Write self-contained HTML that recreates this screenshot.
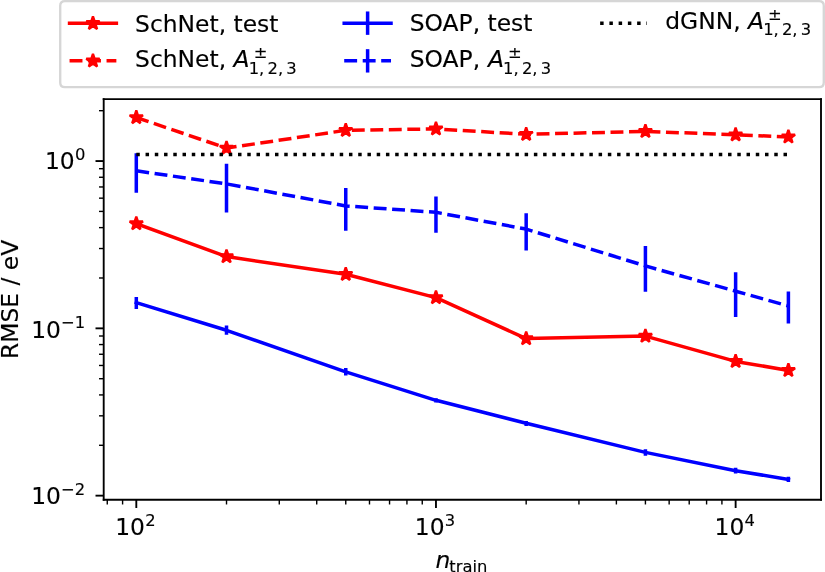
<!DOCTYPE html>
<html><head><meta charset="utf-8"><title>RMSE vs n_train</title><style>html,body{margin:0;padding:0;background:#fff;overflow:hidden;width:825px;height:572px}svg{display:block}svg text{stroke:#000;stroke-width:0.06px;paint-order:stroke}</style></head>
<body><svg width="825" height="572" viewBox="0 0 352.564103 244.444444" version="1.1">
<defs>
<style type="text/css">*{stroke-linejoin: round; stroke-linecap: butt}</style>
</defs>
<g id="figure_1">
<g id="patch_1">
<path d="M 0 244.444444 
L 352.564103 244.444444 
L 352.564103 0 
L 0 0 
z
" style="fill: #ffffff"/>
</g>
<g id="axes_1">
<g id="patch_2">
<path d="M 44.316239 213.589744 
L 350.854701 213.589744 
L 350.854701 42.337607 
L 44.316239 42.337607 
z
" style="fill: #ffffff"/>
</g>
<g id="matplotlib.axis_1">
<g id="xtick_1">
<g id="line2d_1">
<g>
<path d="M 0 0  L 0 3.5  " transform="translate(58.249864 213.589744)" style="stroke: #000000; stroke-width: 0.8"/>
</g>
</g>
<g id="text_1" transform="translate(-0.2137 1.2821)">
<g transform="translate(49.449864 228.188181)">
<text><tspan x="0.0000" y="-0.9766" style="font-size: 10px; font-family: 'DejaVu Sans', sans-serif">10</tspan><tspan x="12.8203" y="-4.8047" style="font-size: 7px; font-family: 'DejaVu Sans', sans-serif">2</tspan></text>
</g>
</g>
</g>
<g id="xtick_2">
<g id="line2d_2">
<g>
<path d="M 0 0  L 0 3.5  " transform="translate(186.310382 213.589744)" style="stroke: #000000; stroke-width: 0.8"/>
</g>
</g>
<g id="text_2" transform="translate(-0.2137 1.2821)">
<g transform="translate(177.510382 228.188181)">
<text><tspan x="0.0000" y="-0.9766" style="font-size: 10px; font-family: 'DejaVu Sans', sans-serif">10</tspan><tspan x="12.8203" y="-4.8047" style="font-size: 7px; font-family: 'DejaVu Sans', sans-serif">3</tspan></text>
</g>
</g>
</g>
<g id="xtick_3">
<g id="line2d_3">
<g>
<path d="M 0 0  L 0 3.5  " transform="translate(314.3709 213.589744)" style="stroke: #000000; stroke-width: 0.8"/>
</g>
</g>
<g id="text_3" transform="translate(-0.2137 0.3419)">
<g transform="translate(305.5709 228.188181)">
<text><tspan x="0.0000" y="-0.0641" style="font-size: 10px; font-family: 'DejaVu Sans', sans-serif">10</tspan><tspan x="12.8203" y="-3.8922" style="font-size: 7px; font-family: 'DejaVu Sans', sans-serif">4</tspan></text>
</g>
</g>
</g>
<g id="xtick_4">
<g id="line2d_4">
<g>
<path d="M 0 0  L 0 2  " transform="translate(45.839518 213.589744)" style="stroke: #000000; stroke-width: 0.6"/>
</g>
</g>
</g>
<g id="xtick_5">
<g id="line2d_5">
<g>
<path d="M 0 0  L 0 2  " transform="translate(52.390136 213.589744)" style="stroke: #000000; stroke-width: 0.6"/>
</g>
</g>
</g>
<g id="xtick_6">
<g id="line2d_6">
<g>
<path d="M 0 0  L 0 2  " transform="translate(96.799921 213.589744)" style="stroke: #000000; stroke-width: 0.6"/>
</g>
</g>
</g>
<g id="xtick_7">
<g id="line2d_7">
<g>
<path d="M 0 0  L 0 2  " transform="translate(119.350259 213.589744)" style="stroke: #000000; stroke-width: 0.6"/>
</g>
</g>
</g>
<g id="xtick_8">
<g id="line2d_8">
<g>
<path d="M 0 0  L 0 2  " transform="translate(135.349978 213.589744)" style="stroke: #000000; stroke-width: 0.6"/>
</g>
</g>
</g>
<g id="xtick_9">
<g id="line2d_9">
<g>
<path d="M 0 0  L 0 2  " transform="translate(147.760325 213.589744)" style="stroke: #000000; stroke-width: 0.6"/>
</g>
</g>
</g>
<g id="xtick_10">
<g id="line2d_10">
<g>
<path d="M 0 0  L 0 2  " transform="translate(157.900316 213.589744)" style="stroke: #000000; stroke-width: 0.6"/>
</g>
</g>
</g>
<g id="xtick_11">
<g id="line2d_11">
<g>
<path d="M 0 0  L 0 2  " transform="translate(166.473557 213.589744)" style="stroke: #000000; stroke-width: 0.6"/>
</g>
</g>
</g>
<g id="xtick_12">
<g id="line2d_12">
<g>
<path d="M 0 0  L 0 2  " transform="translate(173.900035 213.589744)" style="stroke: #000000; stroke-width: 0.6"/>
</g>
</g>
</g>
<g id="xtick_13">
<g id="line2d_13">
<g>
<path d="M 0 0  L 0 2  " transform="translate(180.450654 213.589744)" style="stroke: #000000; stroke-width: 0.6"/>
</g>
</g>
</g>
<g id="xtick_14">
<g id="line2d_14">
<g>
<path d="M 0 0  L 0 2  " transform="translate(224.860439 213.589744)" style="stroke: #000000; stroke-width: 0.6"/>
</g>
</g>
</g>
<g id="xtick_15">
<g id="line2d_15">
<g>
<path d="M 0 0  L 0 2  " transform="translate(247.410777 213.589744)" style="stroke: #000000; stroke-width: 0.6"/>
</g>
</g>
</g>
<g id="xtick_16">
<g id="line2d_16">
<g>
<path d="M 0 0  L 0 2  " transform="translate(263.410496 213.589744)" style="stroke: #000000; stroke-width: 0.6"/>
</g>
</g>
</g>
<g id="xtick_17">
<g id="line2d_17">
<g>
<path d="M 0 0  L 0 2  " transform="translate(275.820842 213.589744)" style="stroke: #000000; stroke-width: 0.6"/>
</g>
</g>
</g>
<g id="xtick_18">
<g id="line2d_18">
<g>
<path d="M 0 0  L 0 2  " transform="translate(285.960834 213.589744)" style="stroke: #000000; stroke-width: 0.6"/>
</g>
</g>
</g>
<g id="xtick_19">
<g id="line2d_19">
<g>
<path d="M 0 0  L 0 2  " transform="translate(294.534074 213.589744)" style="stroke: #000000; stroke-width: 0.6"/>
</g>
</g>
</g>
<g id="xtick_20">
<g id="line2d_20">
<g>
<path d="M 0 0  L 0 2  " transform="translate(301.960553 213.589744)" style="stroke: #000000; stroke-width: 0.6"/>
</g>
</g>
</g>
<g id="xtick_21">
<g id="line2d_21">
<g>
<path d="M 0 0  L 0 2  " transform="translate(308.511172 213.589744)" style="stroke: #000000; stroke-width: 0.6"/>
</g>
</g>
</g>
<g id="text_4" transform="translate(0.0000 1.1538)">
<g transform="translate(186.08547 241.866306)">
<text><tspan x="0.0000" y="-0.4062" style="font-style: oblique; font-size: 10px; font-family: 'DejaVu Sans', sans-serif">n</tspan><tspan x="5.9533" y="1.2344" style="font-size: 7px; font-family: 'DejaVu Sans', sans-serif">train</tspan></text>
</g>
</g>
</g>
<g id="matplotlib.axis_2">
<g id="ytick_1">
<g id="line2d_22">
<g>
<path d="M 0 0  L -3.5 0  " transform="translate(44.316239 211.816239)" style="stroke: #000000; stroke-width: 0.8"/>
</g>
</g>
<g id="text_5" transform="translate(-0.5128 0.5983)">
<g transform="translate(13.816239 215.615458)">
<text><tspan x="0.0000" y="-0.9766" style="font-size: 10px; font-family: 'DejaVu Sans', sans-serif">10</tspan><tspan x="12.8203" y="-4.8047" style="font-size: 7px; font-family: 'DejaVu Sans', sans-serif">−2</tspan></text>
</g>
</g>
</g>
<g id="ytick_2">
<g id="line2d_23">
<g>
<path d="M 0 0  L -3.5 0  " transform="translate(44.316239 140.320513)" style="stroke: #000000; stroke-width: 0.8"/>
</g>
</g>
<g id="text_6" transform="translate(-0.5128 0.4274)">
<g transform="translate(13.816239 144.119732)">
<text><tspan x="0.0000" y="-0.0641" style="font-size: 10px; font-family: 'DejaVu Sans', sans-serif">10</tspan><tspan x="12.8203" y="-4.2341" style="font-size: 7px; font-family: 'DejaVu Sans', sans-serif">−1</tspan></text>
</g>
</g>
</g>
<g id="ytick_3">
<g id="line2d_24">
<g>
<path d="M 0 0  L -3.5 0  " transform="translate(44.316239 68.824786)" style="stroke: #000000; stroke-width: 0.8"/>
</g>
</g>
<g id="text_7" transform="translate(-0.5128 0.5983)">
<g transform="translate(19.716239 72.624005)">
<text><tspan x="0.0000" y="-0.9766" style="font-size: 10px; font-family: 'DejaVu Sans', sans-serif">10</tspan><tspan x="12.8203" y="-4.8047" style="font-size: 7px; font-family: 'DejaVu Sans', sans-serif">0</tspan></text>
</g>
</g>
</g>
<g id="ytick_4">
<g id="line2d_25">
<g>
<path d="M 0 0  L -2 0  " transform="translate(44.316239 190.293881)" style="stroke: #000000; stroke-width: 0.6"/>
</g>
</g>
</g>
<g id="ytick_5">
<g id="line2d_26">
<g>
<path d="M 0 0  L -2 0  " transform="translate(44.316239 177.704109)" style="stroke: #000000; stroke-width: 0.6"/>
</g>
</g>
</g>
<g id="ytick_6">
<g id="line2d_27">
<g>
<path d="M 0 0  L -2 0  " transform="translate(44.316239 168.771523)" style="stroke: #000000; stroke-width: 0.6"/>
</g>
</g>
</g>
<g id="ytick_7">
<g id="line2d_28">
<g>
<path d="M 0 0  L -2 0  " transform="translate(44.316239 161.842871)" style="stroke: #000000; stroke-width: 0.6"/>
</g>
</g>
</g>
<g id="ytick_8">
<g id="line2d_29">
<g>
<path d="M 0 0  L -2 0  " transform="translate(44.316239 156.18175)" style="stroke: #000000; stroke-width: 0.6"/>
</g>
</g>
</g>
<g id="ytick_9">
<g id="line2d_30">
<g>
<path d="M 0 0  L -2 0  " transform="translate(44.316239 151.395341)" style="stroke: #000000; stroke-width: 0.6"/>
</g>
</g>
</g>
<g id="ytick_10">
<g id="line2d_31">
<g>
<path d="M 0 0  L -2 0  " transform="translate(44.316239 147.249165)" style="stroke: #000000; stroke-width: 0.6"/>
</g>
</g>
</g>
<g id="ytick_11">
<g id="line2d_32">
<g>
<path d="M 0 0  L -2 0  " transform="translate(44.316239 143.591978)" style="stroke: #000000; stroke-width: 0.6"/>
</g>
</g>
</g>
<g id="ytick_12">
<g id="line2d_33">
<g>
<path d="M 0 0  L -2 0  " transform="translate(44.316239 118.798155)" style="stroke: #000000; stroke-width: 0.6"/>
</g>
</g>
</g>
<g id="ytick_13">
<g id="line2d_34">
<g>
<path d="M 0 0  L -2 0  " transform="translate(44.316239 106.208382)" style="stroke: #000000; stroke-width: 0.6"/>
</g>
</g>
</g>
<g id="ytick_14">
<g id="line2d_35">
<g>
<path d="M 0 0  L -2 0  " transform="translate(44.316239 97.275796)" style="stroke: #000000; stroke-width: 0.6"/>
</g>
</g>
</g>
<g id="ytick_15">
<g id="line2d_36">
<g>
<path d="M 0 0  L -2 0  " transform="translate(44.316239 90.347145)" style="stroke: #000000; stroke-width: 0.6"/>
</g>
</g>
</g>
<g id="ytick_16">
<g id="line2d_37">
<g>
<path d="M 0 0  L -2 0  " transform="translate(44.316239 84.686024)" style="stroke: #000000; stroke-width: 0.6"/>
</g>
</g>
</g>
<g id="ytick_17">
<g id="line2d_38">
<g>
<path d="M 0 0  L -2 0  " transform="translate(44.316239 79.899614)" style="stroke: #000000; stroke-width: 0.6"/>
</g>
</g>
</g>
<g id="ytick_18">
<g id="line2d_39">
<g>
<path d="M 0 0  L -2 0  " transform="translate(44.316239 75.753438)" style="stroke: #000000; stroke-width: 0.6"/>
</g>
</g>
</g>
<g id="ytick_19">
<g id="line2d_40">
<g>
<path d="M 0 0  L -2 0  " transform="translate(44.316239 72.096251)" style="stroke: #000000; stroke-width: 0.6"/>
</g>
</g>
</g>
<g id="ytick_20">
<g id="line2d_41">
<g>
<path d="M 0 0  L -2 0  " transform="translate(44.316239 47.302428)" style="stroke: #000000; stroke-width: 0.6"/>
</g>
</g>
</g>
<g id="text_8" transform="translate(-0.1709 0.0000)">
<text style="font-size: 10px; font-family: 'DejaVu Sans', sans-serif; text-anchor: middle" x="7.736552" y="127.963675" transform="rotate(-90 7.736552 127.963675)">RMSE / eV</text>
</g>
</g>
<g id="line2d_42">
<path d="M 58.249864 95.555556 
L 96.799921 109.65812 
L 147.760325 117.222222 
L 186.310382 127.179487 
L 224.860439 144.700855 
L 275.820842 143.632479 
L 314.3709 154.444444 
L 336.921237 158.290598 
" clip-path="url(#p3838d78242)" style="fill: none; stroke: #ff0000; stroke-width: 1.5; stroke-linecap: square"/>
<g clip-path="url(#p3838d78242)">
<path d="M 0 -3  L -0.673542 -0.927051  L -2.85317 -0.927051  L -1.089814 0.354102  L -1.763356 2.427051  L -0 1.145898  L 1.763356 2.427051  L 1.089814 0.354102  L 2.85317 -0.927051  L 0.673542 -0.927051  z " transform="translate(58.249864 95.555556)" style="fill: #ff0000; stroke: #ff0000; stroke-linejoin: bevel"/>
<path d="M 0 -3  L -0.673542 -0.927051  L -2.85317 -0.927051  L -1.089814 0.354102  L -1.763356 2.427051  L -0 1.145898  L 1.763356 2.427051  L 1.089814 0.354102  L 2.85317 -0.927051  L 0.673542 -0.927051  z " transform="translate(96.799921 109.65812)" style="fill: #ff0000; stroke: #ff0000; stroke-linejoin: bevel"/>
<path d="M 0 -3  L -0.673542 -0.927051  L -2.85317 -0.927051  L -1.089814 0.354102  L -1.763356 2.427051  L -0 1.145898  L 1.763356 2.427051  L 1.089814 0.354102  L 2.85317 -0.927051  L 0.673542 -0.927051  z " transform="translate(147.760325 117.222222)" style="fill: #ff0000; stroke: #ff0000; stroke-linejoin: bevel"/>
<path d="M 0 -3  L -0.673542 -0.927051  L -2.85317 -0.927051  L -1.089814 0.354102  L -1.763356 2.427051  L -0 1.145898  L 1.763356 2.427051  L 1.089814 0.354102  L 2.85317 -0.927051  L 0.673542 -0.927051  z " transform="translate(186.310382 127.179487)" style="fill: #ff0000; stroke: #ff0000; stroke-linejoin: bevel"/>
<path d="M 0 -3  L -0.673542 -0.927051  L -2.85317 -0.927051  L -1.089814 0.354102  L -1.763356 2.427051  L -0 1.145898  L 1.763356 2.427051  L 1.089814 0.354102  L 2.85317 -0.927051  L 0.673542 -0.927051  z " transform="translate(224.860439 144.700855)" style="fill: #ff0000; stroke: #ff0000; stroke-linejoin: bevel"/>
<path d="M 0 -3  L -0.673542 -0.927051  L -2.85317 -0.927051  L -1.089814 0.354102  L -1.763356 2.427051  L -0 1.145898  L 1.763356 2.427051  L 1.089814 0.354102  L 2.85317 -0.927051  L 0.673542 -0.927051  z " transform="translate(275.820842 143.632479)" style="fill: #ff0000; stroke: #ff0000; stroke-linejoin: bevel"/>
<path d="M 0 -3  L -0.673542 -0.927051  L -2.85317 -0.927051  L -1.089814 0.354102  L -1.763356 2.427051  L -0 1.145898  L 1.763356 2.427051  L 1.089814 0.354102  L 2.85317 -0.927051  L 0.673542 -0.927051  z " transform="translate(314.3709 154.444444)" style="fill: #ff0000; stroke: #ff0000; stroke-linejoin: bevel"/>
<path d="M 0 -3  L -0.673542 -0.927051  L -2.85317 -0.927051  L -1.089814 0.354102  L -1.763356 2.427051  L -0 1.145898  L 1.763356 2.427051  L 1.089814 0.354102  L 2.85317 -0.927051  L 0.673542 -0.927051  z " transform="translate(336.921237 158.290598)" style="fill: #ff0000; stroke: #ff0000; stroke-linejoin: bevel"/>
</g>
</g>
<g id="line2d_43">
<path d="M 58.249864 50.213675 
L 96.799921 63.290598 
L 147.760325 55.683761 
L 186.310382 55.08547 
L 224.860439 57.393162 
L 275.820842 56.153846 
L 314.3709 57.58547 
L 336.921237 58.504274 
" clip-path="url(#p3838d78242)" style="fill: none; stroke-dasharray: 5.5167,2.3856; stroke-dashoffset: 0; stroke: #ff0000; stroke-width: 1.5"/>
<g clip-path="url(#p3838d78242)">
<path d="M 0 -3  L -0.673542 -0.927051  L -2.85317 -0.927051  L -1.089814 0.354102  L -1.763356 2.427051  L -0 1.145898  L 1.763356 2.427051  L 1.089814 0.354102  L 2.85317 -0.927051  L 0.673542 -0.927051  z " transform="translate(58.249864 50.213675)" style="fill: #ff0000; stroke: #ff0000; stroke-linejoin: bevel"/>
<path d="M 0 -3  L -0.673542 -0.927051  L -2.85317 -0.927051  L -1.089814 0.354102  L -1.763356 2.427051  L -0 1.145898  L 1.763356 2.427051  L 1.089814 0.354102  L 2.85317 -0.927051  L 0.673542 -0.927051  z " transform="translate(96.799921 63.290598)" style="fill: #ff0000; stroke: #ff0000; stroke-linejoin: bevel"/>
<path d="M 0 -3  L -0.673542 -0.927051  L -2.85317 -0.927051  L -1.089814 0.354102  L -1.763356 2.427051  L -0 1.145898  L 1.763356 2.427051  L 1.089814 0.354102  L 2.85317 -0.927051  L 0.673542 -0.927051  z " transform="translate(147.760325 55.683761)" style="fill: #ff0000; stroke: #ff0000; stroke-linejoin: bevel"/>
<path d="M 0 -3  L -0.673542 -0.927051  L -2.85317 -0.927051  L -1.089814 0.354102  L -1.763356 2.427051  L -0 1.145898  L 1.763356 2.427051  L 1.089814 0.354102  L 2.85317 -0.927051  L 0.673542 -0.927051  z " transform="translate(186.310382 55.08547)" style="fill: #ff0000; stroke: #ff0000; stroke-linejoin: bevel"/>
<path d="M 0 -3  L -0.673542 -0.927051  L -2.85317 -0.927051  L -1.089814 0.354102  L -1.763356 2.427051  L -0 1.145898  L 1.763356 2.427051  L 1.089814 0.354102  L 2.85317 -0.927051  L 0.673542 -0.927051  z " transform="translate(224.860439 57.393162)" style="fill: #ff0000; stroke: #ff0000; stroke-linejoin: bevel"/>
<path d="M 0 -3  L -0.673542 -0.927051  L -2.85317 -0.927051  L -1.089814 0.354102  L -1.763356 2.427051  L -0 1.145898  L 1.763356 2.427051  L 1.089814 0.354102  L 2.85317 -0.927051  L 0.673542 -0.927051  z " transform="translate(275.820842 56.153846)" style="fill: #ff0000; stroke: #ff0000; stroke-linejoin: bevel"/>
<path d="M 0 -3  L -0.673542 -0.927051  L -2.85317 -0.927051  L -1.089814 0.354102  L -1.763356 2.427051  L -0 1.145898  L 1.763356 2.427051  L 1.089814 0.354102  L 2.85317 -0.927051  L 0.673542 -0.927051  z " transform="translate(314.3709 57.58547)" style="fill: #ff0000; stroke: #ff0000; stroke-linejoin: bevel"/>
<path d="M 0 -3  L -0.673542 -0.927051  L -2.85317 -0.927051  L -1.089814 0.354102  L -1.763356 2.427051  L -0 1.145898  L 1.763356 2.427051  L 1.089814 0.354102  L 2.85317 -0.927051  L 0.673542 -0.927051  z " transform="translate(336.921237 58.504274)" style="fill: #ff0000; stroke: #ff0000; stroke-linejoin: bevel"/>
</g>
</g>
<g id="LineCollection_1">
<path d="M 58.249864 132.008547 
L 58.249864 126.965812 
" clip-path="url(#p3838d78242)" style="fill: none; stroke: #0000ff; stroke-width: 1.5"/>
<path d="M 96.799921 143.034188 
L 96.799921 139.102564 
" clip-path="url(#p3838d78242)" style="fill: none; stroke: #0000ff; stroke-width: 1.5"/>
<path d="M 147.760325 160.470085 
L 147.760325 157.264957 
" clip-path="url(#p3838d78242)" style="fill: none; stroke: #0000ff; stroke-width: 1.5"/>
<path d="M 186.310382 171.965812 
L 186.310382 170.17094 
" clip-path="url(#p3838d78242)" style="fill: none; stroke: #0000ff; stroke-width: 1.5"/>
<path d="M 224.860439 182.008547 
L 224.860439 179.871795 
" clip-path="url(#p3838d78242)" style="fill: none; stroke: #0000ff; stroke-width: 1.5"/>
<path d="M 275.820842 194.74359 
L 275.820842 191.965812 
" clip-path="url(#p3838d78242)" style="fill: none; stroke: #0000ff; stroke-width: 1.5"/>
<path d="M 314.3709 202.393162 
L 314.3709 199.91453 
" clip-path="url(#p3838d78242)" style="fill: none; stroke: #0000ff; stroke-width: 1.5"/>
<path d="M 336.921237 205.940171 
L 336.921237 203.717949 
" clip-path="url(#p3838d78242)" style="fill: none; stroke: #0000ff; stroke-width: 1.5"/>
</g>
<g id="LineCollection_2">
<path d="M 58.249864 82.350427 
L 58.249864 65.512821 
" clip-path="url(#p3838d78242)" style="fill: none; stroke: #0000ff; stroke-width: 1.5"/>
<path d="M 96.799921 90.769231 
L 96.799921 70 
" clip-path="url(#p3838d78242)" style="fill: none; stroke: #0000ff; stroke-width: 1.5"/>
<path d="M 147.760325 98.589744 
L 147.760325 80.299145 
" clip-path="url(#p3838d78242)" style="fill: none; stroke: #0000ff; stroke-width: 1.5"/>
<path d="M 186.310382 99.487179 
L 186.310382 84.017094 
" clip-path="url(#p3838d78242)" style="fill: none; stroke: #0000ff; stroke-width: 1.5"/>
<path d="M 224.860439 107.051282 
L 224.860439 91.111111 
" clip-path="url(#p3838d78242)" style="fill: none; stroke: #0000ff; stroke-width: 1.5"/>
<path d="M 275.820842 124.700855 
L 275.820842 105.08547 
" clip-path="url(#p3838d78242)" style="fill: none; stroke: #0000ff; stroke-width: 1.5"/>
<path d="M 314.3709 135.42735 
L 314.3709 116.367521 
" clip-path="url(#p3838d78242)" style="fill: none; stroke: #0000ff; stroke-width: 1.5"/>
<path d="M 336.921237 138.247863 
L 336.921237 124.57265 
" clip-path="url(#p3838d78242)" style="fill: none; stroke: #0000ff; stroke-width: 1.5"/>
</g>
<g id="line2d_44">
<path d="M 58.249864 66.025641 
L 336.921237 66.025641 
" clip-path="url(#p3838d78242)" style="fill: none; stroke-dasharray: 1.4910,2.4602; stroke-dashoffset: 0; stroke: #000000; stroke-width: 1.5"/>
</g>
<g id="line2d_45">
<path d="M 58.249864 129.358974 
L 96.799921 141.153846 
L 147.760325 158.888889 
L 186.310382 171.068376 
L 224.860439 180.897436 
L 275.820842 193.333333 
L 314.3709 201.153846 
L 336.921237 204.871795 
" clip-path="url(#p3838d78242)" style="fill: none; stroke: #0000ff; stroke-width: 1.5; stroke-linecap: square"/>
</g>
<g id="line2d_46">
<path d="M 58.249864 72.991453 
L 96.799921 78.589744 
L 147.760325 87.991453 
L 186.310382 90.726496 
L 224.860439 97.905983 
L 275.820842 113.632479 
L 314.3709 124.444444 
L 336.921237 130.769231 
" clip-path="url(#p3838d78242)" style="fill: none; stroke-dasharray: 5.5167,2.3856; stroke-dashoffset: 0; stroke: #0000ff; stroke-width: 1.5"/>
</g>
<g id="patch_3">
<path d="M 44.316239 213.589744 
L 44.316239 42.337607 
" style="fill: none; stroke: #000000; stroke-width: 0.8; stroke-linejoin: miter; stroke-linecap: square"/>
</g>
<g id="patch_4">
<path d="M 350.854701 213.589744 
L 350.854701 42.337607 
" style="fill: none; stroke: #000000; stroke-width: 0.8; stroke-linejoin: miter; stroke-linecap: square"/>
</g>
<g id="patch_5">
<path d="M 44.316239 213.589744 
L 350.854701 213.589744 
" style="fill: none; stroke: #000000; stroke-width: 0.8; stroke-linejoin: miter; stroke-linecap: square"/>
</g>
<g id="patch_6">
<path d="M 44.316239 42.337607 
L 350.854701 42.337607 
" style="fill: none; stroke: #000000; stroke-width: 0.8; stroke-linejoin: miter; stroke-linecap: square"/>
</g>
</g>
<g id="legend_1">
<g id="patch_7">
<path d="M 27.7265 37.2650 L 350.0513 37.2650 Q 352.0513 37.2650 352.0513 35.2650 L 352.0513 2.5000 Q 352.0513 0.5000 350.0513 0.5000 L 27.7265 0.5000 Q 25.7265 0.5000 25.7265 2.5000 L 25.7265 35.2650 Q 25.7265 37.2650 27.7265 37.2650 z" style="fill: #ffffff; opacity: 0.8; stroke: #cccccc; stroke-linejoin: miter"/>
</g>
<g id="line2d_47" transform="translate(0.0000 0.6838)">
<path d="M 29.726496 9.3 
L 39.726496 9.3 
L 49.726496 9.3 
" style="fill: none; stroke: #ff0000; stroke-width: 1.5; stroke-linecap: square"/>
<g>
<path d="M 0 -3  L -0.673542 -0.927051  L -2.85317 -0.927051  L -1.089814 0.354102  L -1.763356 2.427051  L -0 1.145898  L 1.763356 2.427051  L 1.089814 0.354102  L 2.85317 -0.927051  L 0.673542 -0.927051  z " transform="translate(39.726496 9.3)" style="fill: #ff0000; stroke: #ff0000; stroke-linejoin: bevel"/>
</g>
</g>
<g id="text_9" transform="translate(0.0000 0.6838)">
<text style="font-size: 10px; font-family: 'DejaVu Sans', sans-serif; text-anchor: start" x="57.726496" y="12.8" transform="rotate(-0 57.726496 12.8)">SchNet, test</text>
</g>
<g id="line2d_48" transform="translate(0.0000 1.3248)">
<path d="M 29.726496 24.679688 
L 39.726496 24.679688 
L 49.726496 24.679688 
" style="fill: none; stroke-dasharray: 5.5167,2.3856; stroke-dashoffset: 0; stroke: #ff0000; stroke-width: 1.5"/>
<g>
<path d="M 0 -3  L -0.673542 -0.927051  L -2.85317 -0.927051  L -1.089814 0.354102  L -1.763356 2.427051  L -0 1.145898  L 1.763356 2.427051  L 1.089814 0.354102  L 2.85317 -0.927051  L 0.673542 -0.927051  z " transform="translate(39.726496 24.679688)" style="fill: #ff0000; stroke: #ff0000; stroke-linejoin: bevel"/>
</g>
</g>
<g id="text_10" transform="translate(0.0000 1.3248)">
<g transform="translate(57.726496 28.179688)">
<text><tspan x="0.0000" y="-0.7859" style="font-size: 10px; font-family: 'DejaVu Sans', sans-serif">SchNet, </tspan><tspan x="42.0947" y="-0.7859" style="font-style: oblique; font-size: 10px; font-family: 'DejaVu Sans', sans-serif">A</tspan><tspan x="48.5509" y="1.9484" style="font-size: 7px; font-family: 'DejaVu Sans', sans-serif">1</tspan><tspan x="50.6637" y="-4.8277" style="font-size: 7px; font-family: 'DejaVu Sans', sans-serif">±</tspan><tspan x="53.0045" y="1.9484" style="font-size: 7px; font-family: 'DejaVu Sans', sans-serif">,</tspan><tspan x="56.5934" y="1.9484" style="font-size: 7px; font-family: 'DejaVu Sans', sans-serif">2,</tspan><tspan x="64.6359" y="1.9484" style="font-size: 7px; font-family: 'DejaVu Sans', sans-serif">3</tspan></text>
</g>
</g>
<g id="LineCollection_3" transform="translate(-0.4274 0.5983)">
<path d="M 157.526496 14.3 
L 157.526496 4.3 
" style="fill: none; stroke: #0000ff; stroke-width: 1.5"/>
</g>
<g id="line2d_49" transform="translate(-0.4274 0.5983)">
<path d="M 147.526496 9.3 
L 167.526496 9.3 
" style="fill: none; stroke: #0000ff; stroke-width: 1.5; stroke-linecap: square"/>
</g>
<g id="line2d_50"/>
<g id="text_11" transform="translate(-0.4274 0.5983)">
<text style="font-size: 10px; font-family: 'DejaVu Sans', sans-serif; text-anchor: start" x="175.526496" y="12.8" transform="rotate(-0 175.526496 12.8)">SOAP, test</text>
</g>
<g id="LineCollection_4" transform="translate(-0.4274 1.3248)">
<path d="M 157.526496 29.679688 
L 157.526496 19.679688 
" style="fill: none; stroke: #0000ff; stroke-width: 1.5"/>
</g>
<g id="line2d_51" transform="translate(-0.4274 1.3248)">
<path d="M 147.526496 24.679688 
L 167.526496 24.679688 
" style="fill: none; stroke-dasharray: 5.5167,2.3856; stroke-dashoffset: 0; stroke: #0000ff; stroke-width: 1.5"/>
</g>
<g id="line2d_52"/>
<g id="text_12" transform="translate(-0.4274 1.3248)">
<g transform="translate(175.526496 28.179688)">
<text><tspan x="0.0000" y="-0.7859" style="font-size: 10px; font-family: 'DejaVu Sans', sans-serif">SOAP, </tspan><tspan x="33.4473" y="-0.7859" style="font-style: oblique; font-size: 10px; font-family: 'DejaVu Sans', sans-serif">A</tspan><tspan x="39.9035" y="1.9484" style="font-size: 7px; font-family: 'DejaVu Sans', sans-serif">1</tspan><tspan x="42.0163" y="-4.8277" style="font-size: 7px; font-family: 'DejaVu Sans', sans-serif">±</tspan><tspan x="44.3571" y="1.9484" style="font-size: 7px; font-family: 'DejaVu Sans', sans-serif">,</tspan><tspan x="47.9460" y="1.9484" style="font-size: 7px; font-family: 'DejaVu Sans', sans-serif">2,</tspan><tspan x="55.9884" y="1.9484" style="font-size: 7px; font-family: 'DejaVu Sans', sans-serif">3</tspan></text>
</g>
</g>
<g id="line2d_53" transform="translate(-0.2564 0.5983)">
<path d="M 256.726496 9.3 
L 266.726496 9.3 
L 276.726496 9.3 
" style="fill: none; stroke-dasharray: 1.4910,2.4602; stroke-dashoffset: 0; stroke: #000000; stroke-width: 1.5"/>
</g>
<g id="text_13" transform="translate(-0.4701 0.3846)">
<g transform="translate(284.726496 12.8)">
<text><tspan x="0.0000" y="-0.7859" style="font-size: 10px; font-family: 'DejaVu Sans', sans-serif">dGNN, </tspan><tspan x="35.4150" y="-0.7859" style="font-style: oblique; font-size: 10px; font-family: 'DejaVu Sans', sans-serif">A</tspan><tspan x="41.8712" y="1.9484" style="font-size: 7px; font-family: 'DejaVu Sans', sans-serif">1</tspan><tspan x="43.9841" y="-4.8277" style="font-size: 7px; font-family: 'DejaVu Sans', sans-serif">±</tspan><tspan x="46.3249" y="1.9484" style="font-size: 7px; font-family: 'DejaVu Sans', sans-serif">,</tspan><tspan x="49.9137" y="1.9484" style="font-size: 7px; font-family: 'DejaVu Sans', sans-serif">2,</tspan><tspan x="57.9562" y="1.9484" style="font-size: 7px; font-family: 'DejaVu Sans', sans-serif">3</tspan></text>
</g>
</g>
</g>
</g>
<defs>
<clipPath id="p3838d78242">
<rect x="44.316239" y="42.337607" width="306.538462" height="171.252137"/>
</clipPath>
</defs>
</svg>
</body></html>
